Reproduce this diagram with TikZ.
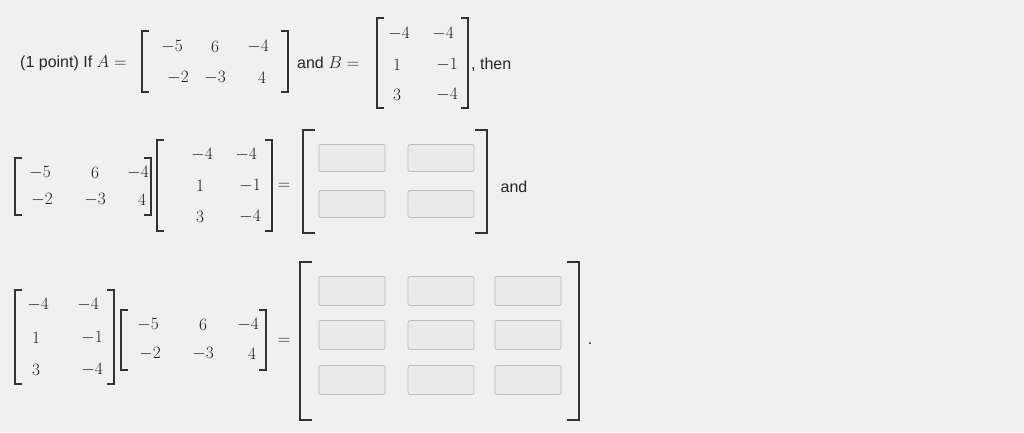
\documentclass[tikz,border=0pt]{standalone}
\usepackage{fontspec}
\newfontfamily\mylsf{Liberation Sans}
\begin{document}
\begin{tikzpicture}[x=1pt,y=-1pt,
  txt/.style={font=\mylsf\fontsize{16}{18}\selectfont,inner sep=0pt,text=black!85},
  ent/.style={font=\fontsize{19}{21}\selectfont,inner sep=0pt,text=black!90},
  br/.style={line width=1.3pt,black!80},
  ansbox/.style={draw=black!25,fill=white!92!black,rounded corners=2pt,line width=0.8pt,minimum width=66pt,minimum height=27pt}]
\fill[white!94!black] (0,0) rectangle (1024,432);
\useasboundingbox (0,0) rectangle (1024,432);
\newcommand{\lbr}[4]{\draw[br] (#1+#4,#2) -- (#1,#2) -- (#1,#3) -- (#1+#4,#3);}
\newcommand{\rbr}[4]{\draw[br] (#1-#4,#2) -- (#1,#2) -- (#1,#3) -- (#1-#4,#3);}
% line 1
\node[txt,anchor=west] (t1) at (20,63) {(1 point) If \fontsize{18}{20}\selectfont$A=$};
\lbr{142}{31}{92}{7}\rbr{288}{31}{92}{7}
\node[ent] (a11) at (172,47) {$-5$};\node[ent] (a12) at (215,47) {$6$};\node[ent] (a13) at (258,47) {$-4$};
\node[ent] (a21) at (178,78) {$-2$};\node[ent] (a22) at (215,78) {$-3$};\node[ent] (a23) at (262,78) {$4$};
\node[txt,anchor=west] (t2) at (297,63) {and \fontsize{18}{20}\selectfont$B=$};
\lbr{377}{18}{108}{7}\rbr{468}{18}{108}{7}
\node[ent] (b11) at (399,34) {$-4$};\node[ent] (b12) at (443,34) {$-4$};
\node[ent] (b21) at (397,65) {$1$};\node[ent] (b22) at (447,65) {$-1$};
\node[ent] (b31) at (397,95) {$3$};\node[ent] (b32) at (447,95) {$-4$};
\node[txt,anchor=west] (t3) at (471,65) {, then};
% line 2
\lbr{15}{158}{215}{7}\rbr{151}{158}{215}{7}
\node[ent] (c11) at (40,173) {$-5$};\node[ent] (c12) at (95,173) {$6$};\node[ent] (c13) at (138,173) {$-4$};
\node[ent] (c21) at (42,200) {$-2$};\node[ent] (c22) at (95,200) {$-3$};\node[ent] (c23) at (142,200) {$4$};
\lbr{157}{140}{231}{7}\rbr{272}{140}{231}{7}
\node[ent] (d11) at (202,155) {$-4$};\node[ent] (d12) at (246,155) {$-4$};
\node[ent] (d21) at (200,186) {$1$};\node[ent] (d22) at (250,186) {$-1$};
\node[ent] (d31) at (200,217) {$3$};\node[ent] (d32) at (250,217) {$-4$};
\node[ent] (eq1) at (284,186) {$=$};
\lbr{303}{130}{233}{12}\rbr{487}{130}{233}{12}
\node[ansbox] (p11) at (352,158) {};\node[ansbox] (p12) at (441,158) {};
\node[ansbox] (p21) at (352,204) {};\node[ansbox] (p22) at (441,204) {};
\node[txt] (t4) at (514,187) {and};
% line 3
\lbr{15}{290}{384}{7}\rbr{114}{290}{384}{7}
\node[ent] (e11) at (38,305) {$-4$};\node[ent] (e12) at (88,305) {$-4$};
\node[ent] (e21) at (36,338) {$1$};\node[ent] (e22) at (92,338) {$-1$};
\node[ent] (e31) at (36,370) {$3$};\node[ent] (e32) at (92,370) {$-4$};
\lbr{121}{310}{370}{7}\rbr{266}{310}{370}{7}
\node[ent] (f11) at (148,325) {$-5$};\node[ent] (f12) at (203,325) {$6$};\node[ent] (f13) at (248,325) {$-4$};
\node[ent] (f21) at (150,354) {$-2$};\node[ent] (f22) at (203,354) {$-3$};\node[ent] (f23) at (252,354) {$4$};
\node[ent] (eq2) at (284,341) {$=$};
\lbr{300}{262}{420}{12}\rbr{579}{262}{420}{12}
\node[ansbox,minimum height=29pt] (q11) at (352,291) {};\node[ansbox,minimum height=29pt] (q12) at (441,291) {};\node[ansbox,minimum height=29pt] (q13) at (528,291) {};
\node[ansbox,minimum height=29pt] (q21) at (352,335) {};\node[ansbox,minimum height=29pt] (q22) at (441,335) {};\node[ansbox,minimum height=29pt] (q23) at (528,335) {};
\node[ansbox,minimum height=29pt] (q31) at (352,380) {};\node[ansbox,minimum height=29pt] (q32) at (441,380) {};\node[ansbox,minimum height=29pt] (q33) at (528,380) {};
\node[txt] (t5) at (590,344) {.};
\end{tikzpicture}
\end{document}
